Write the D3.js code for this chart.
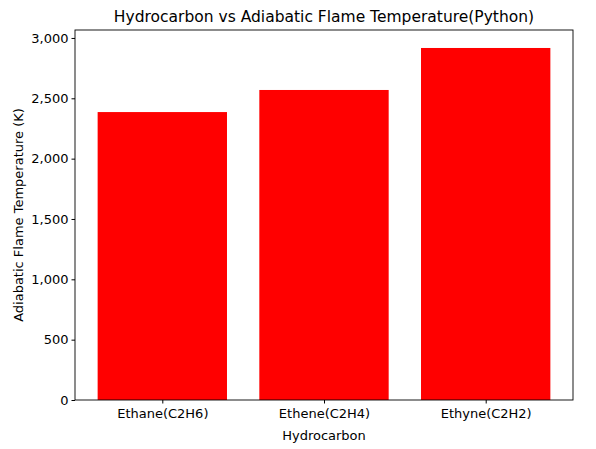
<!DOCTYPE html>
<html><head><meta charset="utf-8">
<script src="https://cdn.jsdelivr.net/npm/d3@7"></script>
<style>body{margin:0;background:#fff}text{font-family:"DejaVu Sans",sans-serif}</style>
</head><body><div id="chart"></div>
<script>
const categories = ["Ethane(C2H6)", "Ethene(C2H4)", "Ethyne(C2H2)"];
const temps = [2386, 2569, 2917];
const yTicks = [0, 500, 1000, 1500, 2000, 2500, 3000];

const width = 596, height = 449;
const margin = { top: 30, right: 23, bottom: 49, left: 75 };
const iw = width - margin.left - margin.right, ih = height - margin.top - margin.bottom;

const svg = d3.select("#chart").append("svg").attr("width", width).attr("height", height);
const g = svg.append("g").attr("transform", `translate(${margin.left},${margin.top})`);

const x = d3.scaleLinear().domain([-0.54, 2.54]).range([0, iw]);
const y = d3.scaleLinear().domain([0, 3066]).range([ih, 0]);

g.selectAll("rect.bar").data(temps).enter().append("rect")
    .attr("x", (d, i) => x(i - 0.4))
    .attr("width", x(0.8) - x(0))
    .attr("y", d => y(d))
    .attr("height", d => ih - y(d))
    .attr("fill", "red");

const xa = g.append("g").attr("transform", `translate(0,${ih})`)
    .call(d3.axisBottom(x).tickValues([0, 1, 2]).tickFormat(i => categories[i]).tickSizeOuter(0).tickSize(3.5));
const ya = g.append("g").call(d3.axisLeft(y).tickValues(yTicks).tickSizeOuter(0).tickSize(3.5));
[xa, ya].forEach(a => {
    a.selectAll("text").attr("font-size", 13).attr("fill", "#000").style("font-family", "DejaVu Sans");
    a.select(".domain").remove();
});
xa.selectAll("text").attr("dy", "0.9em");

g.append("rect").attr("width", iw).attr("height", ih).attr("fill", "none").attr("stroke", "#000").attr("stroke-width", 0.9);

svg.append("text").attr("x", margin.left + iw / 2).attr("y", 22).attr("text-anchor", "middle")
    .attr("font-size", 15.5).text("Hydrocarbon vs Adiabatic Flame Temperature(Python)");
svg.append("text").attr("x", margin.left + iw / 2).attr("y", 440).attr("text-anchor", "middle")
    .attr("font-size", 13).text("Hydrocarbon");
svg.append("text").attr("transform", `translate(23,${margin.top + ih / 2}) rotate(-90)`).attr("text-anchor", "middle")
    .attr("font-size", 13).text("Adiabatic Flame Temperature (K)");
</script></body></html>
